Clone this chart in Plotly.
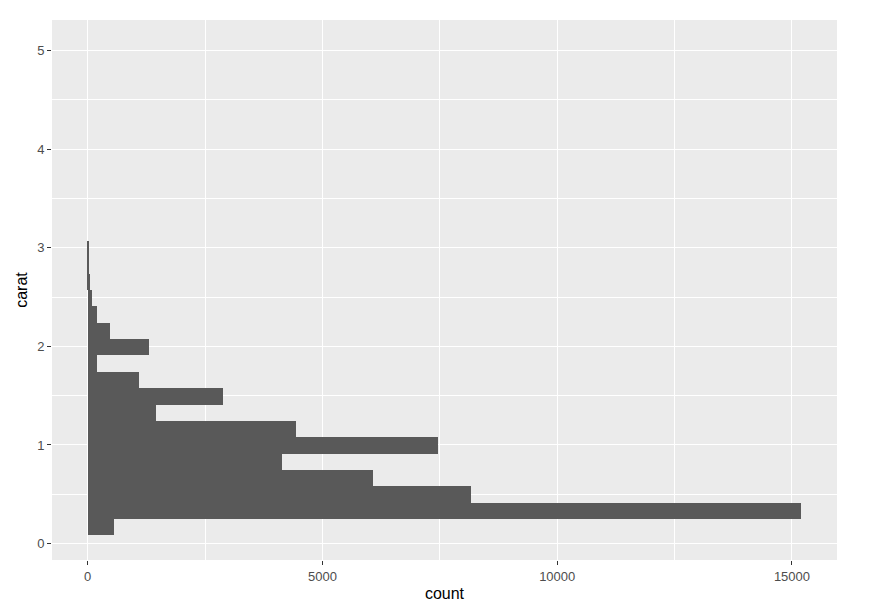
import numpy as np
import plotly.graph_objects as go

# _Histogram of diamond carat (30 bins), counts_
bin_start = 0.0829
bin_width = 0.16586
counts = [550, 15199, 8170, 6082, 4135, 7464, 4435, 1448, 2874, 1090,
          207, 1305, 479, 193, 100, 40, 20, 30, 0, 0,
          0, 0, 0, 0, 0, 0, 0, 0, 0, 0]

centers = [bin_start + bin_width * (i + 0.5) for i in range(len(counts))]

fig = go.Figure(go.Bar(
    x=counts, y=centers, orientation='h', width=bin_width,
    marker=dict(color='#595959', line=dict(width=0)),
    showlegend=False, hoverinfo='x+y'
))

font_family = "Liberation Sans, Arial, sans-serif"
# _page body has an 8px margin, so the figure is shifted and shrunk to match_
fig.update_layout(
    width=884, height=603,
    margin=dict(l=44, r=55, t=12, b=51),
    plot_bgcolor='#EBEBEB', paper_bgcolor='white',
    bargap=0,
    font=dict(family=font_family, size=13, color='#4D4D4D'),
    xaxis=dict(
        range=[-760, 15959], tickvals=[0, 5000, 10000, 15000],
        ticktext=['0', '5000', '10000', '15000'],
        showgrid=True, gridcolor='white', gridwidth=1.4,
        minor=dict(tickvals=[2500, 7500, 12500], showgrid=True,
                   gridcolor='white', gridwidth=0.6, ticks=''),
        ticks='outside', ticklen=4, tickcolor='#333333', tickwidth=1,
        zeroline=False, showline=False, automargin=False,
        title=dict(text='count', font=dict(size=16, color='black'), standoff=5),
    ),
    yaxis=dict(
        range=[-0.166, 5.308], tickvals=[0, 1, 2, 3, 4, 5],
        showgrid=True, gridcolor='white', gridwidth=1.4,
        minor=dict(tickvals=[0.5, 1.5, 2.5, 3.5, 4.5], showgrid=True,
                   gridcolor='white', gridwidth=0.6, ticks=''),
        ticks='outside', ticklen=4, tickcolor='#333333', tickwidth=1,
        zeroline=False, showline=False, automargin=False,
        title=dict(text='carat', font=dict(size=16, color='black'), standoff=5),
    ),
)

fig.write_html("out.html")
